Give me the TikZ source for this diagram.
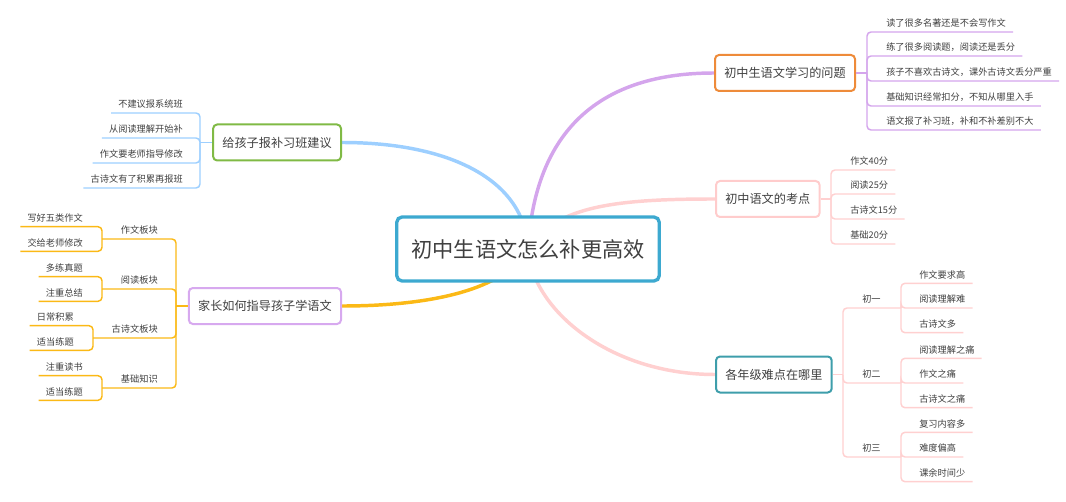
\documentclass[tikz,border=0pt]{standalone}
\usepackage{fontspec}
\newfontfamily\cjk{Noto Sans CJK SC}
\usetikzlibrary{calc,backgrounds}
\definecolor{ink}{HTML}{404040}
\definecolor{rootc}{HTML}{3DA9D0}
\definecolor{orangec}{HTML}{EE8B3A}
\definecolor{pinkc}{HTML}{FFCCCC}
\definecolor{tealc}{HTML}{3E9EAB}
\definecolor{greenc}{HTML}{80BA45}
\definecolor{lilacc}{HTML}{D7A9EF}
\definecolor{purpc}{HTML}{D4A5EC}
\definecolor{rosec}{HTML}{FFD0D0}
\definecolor{skyc}{HTML}{9DCFFF}
\definecolor{goldc}{HTML}{FBB916}
\tikzset{root/.style={draw=rootc, line width=2.5pt, rounded corners=4pt, fill=white, inner xsep=11pt,
    minimum height=48pt, font=\cjk\fontsize{15.9}{18}\selectfont, text=ink},
  topic/.style={draw=#1, line width=1.5pt, rounded corners=3pt, fill=white, inner xsep=7pt,
    minimum height=27pt, font=\cjk\fontsize{9.1}{11}\selectfont, text=ink},
  leaf/.style={inner sep=0pt, text depth=3.6pt, font=\cjk\fontsize{6.9}{8}\selectfont, text=ink},
  twig/.style={draw=#1, line width=1.1pt, rounded corners=3pt},
  limb/.style={draw=#1, line width=2.6pt, line cap=round}}
\begin{document}
\begin{tikzpicture}[x=0.75pt, y=-0.75pt, font=\cjk]
  \useasboundingbox (0,0) rectangle (1066,502);
  \node[root] (hub) at (528,249) {初中生语文怎么补更高效};
  \node[topic=orangec, anchor=west] (wenti) at (714,73) {初中生语文学习的问题};
  \node[topic=pinkc, anchor=west] (kaodian) at (715,199) {初中语文的考点};
  \node[topic=tealc, anchor=west] (nandian) at (715,374.5) {各年级难点在哪里};
  \node[topic=greenc, anchor=east] (buxi) at (342,142.5) {给孩子报补习班建议};
  \node[topic=lilacc, anchor=east] (jiazhang) at (342,306) {家长如何指导孩子学语文};

  % main branches run from the centre, under the boxes
  \begin{pgfonlayer}{background}
    \draw[limb=purpc] (hub.center) .. controls (535,130) and (600,73) .. (wenti.west);
    \draw[limb=rosec] (hub.center) .. controls (555,205) and (620,199) .. (kaodian.west);
    \draw[limb=rosec] (hub.center) .. controls (532,310) and (610,374.5) .. (nandian.west);
    \draw[limb=skyc] (hub.center) .. controls (525,180) and (450,142.5) .. (buxi.east);
    \draw[limb=goldc] (hub.center) .. controls (505,290) and (430,306) .. (jiazhang.east);
  \end{pgfonlayer}

  % 学习的问题
  \coordinate (wt) at (867,73);
  \draw[twig=purpc] (wenti.east) -- (wt);
  \foreach \n/\y/\txt in {1/32/读了很多名著还是不会写作文, 2/56/练了很多阅读题，阅读还是丢分,
      3/81/孩子不喜欢古诗文，课外古诗文丢分严重, 4/106/基础知识经常扣分，不知从哪里入手,
      5/130/语文报了补习班，补和不补差别不大}{
    \node[leaf, anchor=south west] (wt\n) at (886,\y) {\txt};
    \draw[twig=purpc] (wt) |- ($(wt\n.south east)+(7,0)$);
  }

  % 考点
  \coordinate (kd) at (831,199);
  \draw[twig=rosec] (kaodian.east) -- (kd);
  \foreach \n/\y/\txt in {1/170/作文40分, 2/194/阅读25分, 3/219/古诗文15分, 4/244/基础20分}{
    \node[leaf, anchor=south west] (kd\n) at (850,\y) {\txt};
    \draw[twig=rosec] (kd) |- ($(kd\n.south east)+(7,0)$);
  }

  % 各年级难点
  \coordinate (nd) at (843,374.5);
  \draw[twig=rosec] (nandian.east) -- (nd);
  \foreach \n/\y/\g/\la/\lb/\lc in {1/308/初一/作文要求高/阅读理解难/古诗文多,
      2/383/初二/阅读理解之痛/作文之痛/古诗文之痛, 3/457/初三/复习内容多/难度偏高/课余时间少}{
    \node[leaf, anchor=south west] (nj\n) at (862,\y) {\g};
    \coordinate (nd\n) at (901,\y);
    \draw[twig=rosec] (nd) |- (nd\n);
    \foreach \m/\txt in {1/\la, 2/\lb, 3/\lc}{
      \pgfmathsetmacro\ly{\y+(\m-2)*24.7}
      \node[leaf, anchor=south west] (nd\n\m) at (919,\ly) {\txt};
      \draw[twig=rosec] (nd\n) |- ($(nd\n\m.south east)+(7,0)$);
    }
  }

  % 补习班建议
  \coordinate (bx) at (200,142.5);
  \draw[twig=skyc] (buxi.west) -- (bx);
  \foreach \n/\y/\txt in {1/113/不建议报系统班, 2/138/从阅读理解开始补, 3/163/作文要老师指导修改, 4/188/古诗文有了积累再报班}{
    \node[leaf, anchor=south east] (bx\n) at (183,\y) {\txt};
    \draw[twig=skyc] (bx) |- ($(bx\n.south west)+(-7,0)$);
  }

  % 家长如何指导
  \coordinate (jz) at (176,306);
  \draw[twig=goldc] (jiazhang.west) -- (jz);
  \foreach \n/\y/\bx/\g/\la/\lb in {1/239/102/作文板块/写好五类作文/交给老师修改, 2/289/102/阅读板块/多练真题/注重总结,
      3/338/93/古诗文板块/日常积累/适当练题, 4/388/102/基础知识/注重读书/适当练题}{
    \node[leaf, anchor=south east] (jb\n) at (158,\y) {\g};
    \coordinate (jz\n) at (\bx,\y);
    \draw[twig=goldc] (jz) |- (jz\n);
    \foreach \m/\txt in {1/\la, 2/\lb}{
      \pgfmathsetmacro\ly{\y+(2*\m-3)*12.3}
      \node[leaf, anchor=south east] (jz\n\m) at (\bx-19,\ly) {\txt};
      \draw[twig=goldc] (jz\n) |- ($(jz\n\m.south west)+(-7,0)$);
    }
  }
\end{tikzpicture}
\end{document}
